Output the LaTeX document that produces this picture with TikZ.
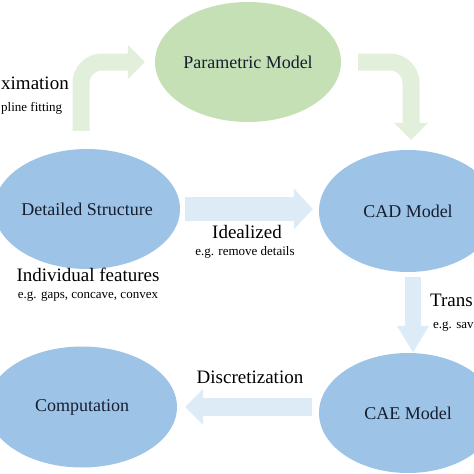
\documentclass[tikz,border=0pt]{standalone}
\usepackage{fontspec}
\setmainfont{Liberation Serif}
\usetikzlibrary{arrows.meta,shapes.geometric}

\definecolor{ellblue}{RGB}{157,195,230}
\definecolor{ellgreen}{RGB}{197,224,180}
\definecolor{arrblue}{RGB}{221,235,247}
\definecolor{arrgreen}{RGB}{226,239,218}
\definecolor{txtnavy}{RGB}{22,30,48}

\tikzset{
    model/.style={ellipse, fill=ellblue, inner sep=0pt, minimum width=186pt,
        minimum height=120pt, text=txtnavy, font=\fontsize{18}{20}\selectfont},
    param/.style={model, fill=ellgreen},
    bigtext/.style={font=\fontsize{19}{21}\selectfont},
    smalltext/.style={font=\fontsize{13}{15}\selectfont},
    greenflow/.style={draw=arrgreen, line width=17pt, rounded corners=21pt,
        -{Triangle[width=33pt, length=17pt]}},
    blueflow/.style={draw=arrblue, line width=#1}
}

\begin{document}
\begin{tikzpicture}[x=1pt, y=-1pt]
    \useasboundingbox (0,0) rectangle (474,474);
    \clip (0,0) rectangle (474,474);

    % models
    \node[param] (parammod) at (248,62) {Parametric Model};
    \node[model] (detail) at (87,209) {Detailed Structure};
    \node[model, minimum width=178pt, minimum height=122pt] (cad) at (408,211) {CAD Model};
    \node[model, minimum width=178pt] (cae) at (408,413) {CAE Model};
    \node[model, minimum width=190pt, minimum height=121pt] (comp) at (82,407) {Computation};

    % flows
    \draw[greenflow] ([xshift=-6pt,yshift=18pt]detail.north) |- ([xshift=-10pt]parammod.west);
    \draw[greenflow] ([xshift=17pt]parammod.east) -| ([xshift=3pt,yshift=10pt]cad.north);
    \draw[blueflow=24pt, -{Triangle[width=40pt, length=19pt]}]
        ([xshift=5pt]detail.east) -- ([xshift=-6pt]detail.east -| cad.west);
    \draw[blueflow=16pt, -{Triangle[width=30pt, length=27pt]}]
        ([xshift=5pt,yshift=-5pt]cad.south) -- ([xshift=5pt]cae.north);
    \draw[blueflow=18pt, -{Triangle[width=35pt, length=18pt]}]
        ([xshift=-7pt]cae.west |- comp.east) -- ([xshift=8pt]comp.east);

    % labels
    \node[bigtext, anchor=west, inner xsep=0pt] (lblapprox) at (1,83) {ximation};
    \node[smalltext, anchor=west, inner xsep=0pt] (lblspline) at (1,108) {pline fitting};
    \node[bigtext] (lblideal) at (247,232) {Idealized};
    \node[smalltext] (lblremove) at (245,252) {e.g. remove details};
    \node[bigtext] (lblfeat) at (88,275) {Individual features};
    \node[smalltext] (lblgaps) at (88,297) {e.g. gaps, concave, convex};
    \node[bigtext] (lbldisc) at (250,377) {Discretization};
    \node[bigtext, anchor=west, inner xsep=0pt] (lbltrans) at (430,300) {Trans};
    \node[smalltext, anchor=west, inner xsep=0pt] (lblsave) at (433,327) {e.g. sav};
\end{tikzpicture}
\end{document}
